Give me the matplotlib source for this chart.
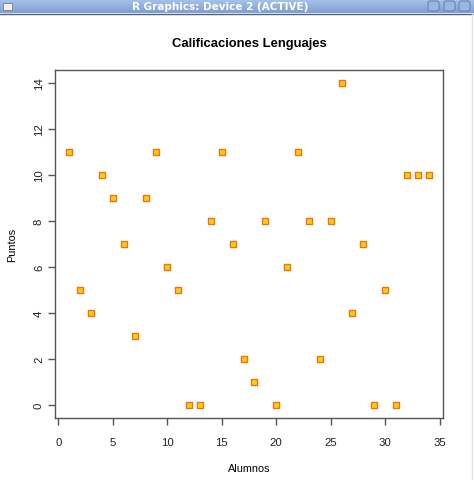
import numpy as np
import matplotlib
matplotlib.use("Agg")
import matplotlib.pyplot as plt
from matplotlib.patches import Rectangle, FancyBboxPatch
from matplotlib.lines import Line2D
from matplotlib.colors import LinearSegmentedColormap

# ---- data ----
alumnos = list(range(1, 35))
puntos = [11, 5, 4, 10, 9, 7, 3, 9, 11, 6, 5, 0, 0, 8, 11, 7, 2, 1, 8, 0,
          6, 11, 8, 2, 8, 14, 4, 7, 0, 5, 0, 10, 10, 10]
x_ticks = [0, 5, 10, 15, 20, 25, 30, 35]
y_ticks = [0, 2, 4, 6, 8, 10, 12, 14]
title = "Calificaciones Lenguajes"
x_label = "Alumnos"
y_label = "Puntos"
window_title = "R Graphics: Device 2 (ACTIVE)"

plt.rcParams['font.family'] = ['Liberation Sans', 'DejaVu Sans']

W, H = 474, 481
fig = plt.figure(figsize=(W / 100, H / 100), dpi=100)
fig.patch.set_facecolor('white')

# ---- window title bar ----
tb = fig.add_axes([0, 1 - 14 / H, 1, 14 / H])
grad = np.linspace(0, 1, 50)[:, None]
cmap = LinearSegmentedColormap.from_list('tb', ['#a9c4ea', '#7e9fd3'])
tb.imshow(grad, aspect='auto', cmap=cmap, extent=[0, 1, 0, 1], origin='upper')
tb.set_xlim(0, 1); tb.set_ylim(0, 1); tb.axis('off')
tb.text(220 / W, 0.5, window_title, color='white', fontsize=7.5, fontweight='bold',
        ha='center', va='center', family=['DejaVu Sans'])
fig.add_artist(Line2D([0, 1], [1 - 14.5 / H] * 2, color='#4a5f80', lw=1))
fig.add_artist(Rectangle((3 / W, 1 - 11 / H), 9 / W, 7 / H, facecolor='#f4f0dc',
                         edgecolor='#6b7fa0', lw=0.6))
for bx in (428, 444, 459):
    fig.add_artist(FancyBboxPatch((bx / W, 1 - 12 / H), 11 / W, 10 / H,
                                  boxstyle='round,pad=0,rounding_size=0.005',
                                  facecolor='#9ab7e2', edgecolor='#5f7fb2', lw=0.7))
fig.add_artist(Line2D([471.5 / W] * 2, [0, 1 - 15 / H], color='#e2e2e2', lw=1))

# ---- main axes ----
left, right, top, bottom = 55, 443, 71, 419
ax = fig.add_axes([left / W, 1 - bottom / H, (right - left) / W, (bottom - top) / H])
ax.scatter(alumnos, puntos, marker='s', s=22, facecolor='#ffd400',
           edgecolor='#f07020', linewidths=1.0, zorder=3)

ax.set_xlim(1 - 0.04 * 33, 34 + 0.04 * 33)
ax.set_ylim(0 - 0.04 * 14, 14 + 0.04 * 14)
ax.set_xticks(x_ticks)
ax.set_yticks(y_ticks)
ax.set_xticklabels([str(t) for t in x_ticks])
ax.set_yticklabels([str(t) for t in y_ticks], rotation=90, va='center')

for s in ax.spines.values():
    s.set_color('#555555')
    s.set_linewidth(1.0)
ax.tick_params(axis='both', direction='out', length=5, width=1.0, color='#555555',
               labelsize=8.2, labelcolor='#222222')
ax.tick_params(axis='x', pad=8.5)
ax.tick_params(axis='y', pad=3)

ax.set_title(title, fontsize=9.4, fontweight='bold', pad=17)
ax.set_xlabel(x_label, fontsize=7.8, labelpad=12)
ax.set_ylabel(y_label, fontsize=7.8, labelpad=12)

fig.savefig('out.png', dpi=100)
